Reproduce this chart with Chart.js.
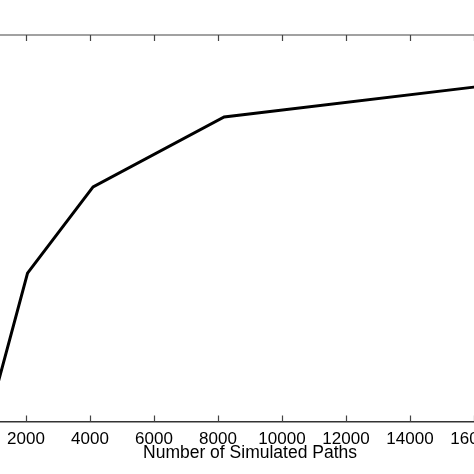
<!DOCTYPE html>
<html>
<head>
<meta charset="utf-8">
<script src="https://cdn.jsdelivr.net/npm/chart.js@4"></script>
<style>
  html, body { margin: 0; padding: 0; background: #fff; }
  #frame { position: relative; width: 474px; height: 474px; overflow: hidden; }
  #wrap { position: absolute; left: -100px; top: 0; width: 700px; height: 474px; }
</style>
</head>
<body>
<div id="frame"><div id="wrap"><canvas id="myChart" width="700" height="474"></canvas></div></div>
<script>
"use strict";

// Data
const paths = [1024, 2048, 4096, 8192, 16384];
const values = [0.068, 0.384, 0.607, 0.788, 0.869];
const xTicks = [0, 2000, 4000, 6000, 8000, 10000, 12000, 14000, 16000, 18000];

const points = paths.map((p, i) => ({ x: p, y: values[i] }));

// Matlab-style frame: top line + inward tick marks
const frameTicks = {
  id: "frameTicks",
  afterDraw(chart) {
    const { ctx, chartArea, scales } = chart;
    const xs = scales.x;
    ctx.save();
    ctx.strokeStyle = "#444";
    ctx.lineWidth = 1.2;
    ctx.beginPath();
    ctx.moveTo(chartArea.left, chartArea.top);
    ctx.lineTo(chartArea.right, chartArea.top);
    xTicks.forEach((t) => {
      const px = Math.round(xs.getPixelForValue(t)) + 0.5;
      ctx.moveTo(px, chartArea.bottom);
      ctx.lineTo(px, chartArea.bottom - 6);
      ctx.moveTo(px, chartArea.top);
      ctx.lineTo(px, chartArea.top + 6);
    });
    ctx.stroke();
    ctx.restore();
  },
};

const ctx = document.getElementById("myChart").getContext("2d");

Chart.defaults.font.family = "Liberation Sans, Arial, sans-serif";
Chart.defaults.color = "#000";

new Chart(ctx, {
  type: "line",
  data: {
    datasets: [
      {
        data: points,
        borderColor: "#000",
        borderWidth: 3,
        pointRadius: 0,
        tension: 0,
        fill: false,
      },
    ],
  },
  options: {
    responsive: false,
    animation: false,
    layout: {
      padding: { left: 62, right: 62, top: 35, bottom: 12 },
    },
    scales: {
      x: {
        type: "linear",
        min: 0,
        max: 18000,
        afterBuildTicks: (scale) => {
          scale.ticks = xTicks.map((v) => ({ value: v }));
        },
        grid: { display: false },
        border: { display: true, color: "#333", width: 1.5 },
        ticks: {
          autoSkip: false,
          maxRotation: 0,
          padding: 1.5,
          font: { size: 17, lineHeight: 1 },
          color: "#000",
          callback: (v) => String(v),
        },
        title: {
          display: true,
          text: "Number of Simulated Paths",
          font: { size: 17.5, lineHeight: 1 },
          padding: { top: -5, bottom: 0 },
          color: "#000",
        },
      },
      y: {
        display: false,
        min: 0,
        max: 1,
      },
    },
    plugins: {
      legend: { display: false },
      tooltip: { enabled: false },
    },
  },
  plugins: [frameTicks],
});
</script>
</body>
</html>
